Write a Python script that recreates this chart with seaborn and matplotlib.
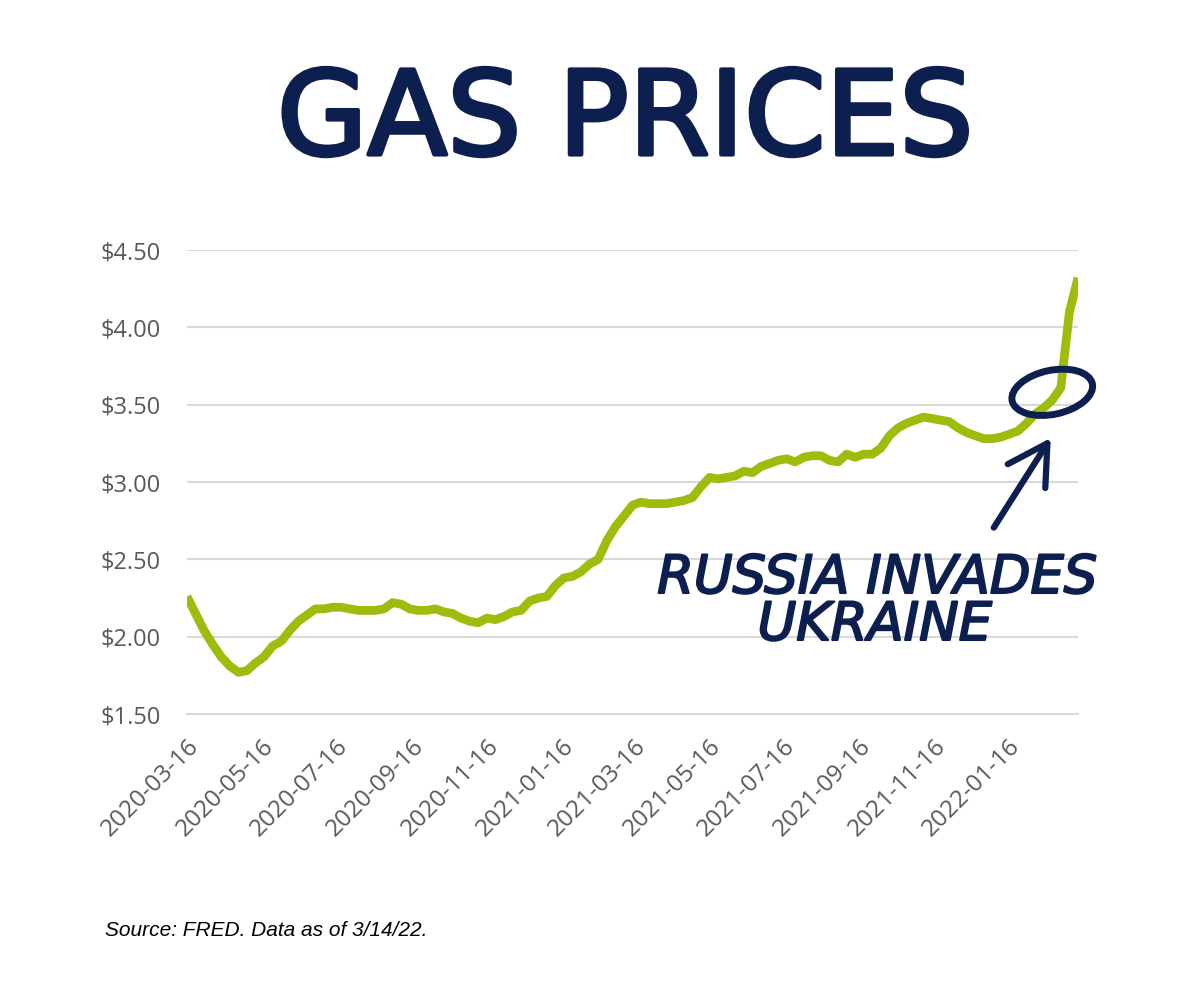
import pandas as pd
import matplotlib.pyplot as plt
import matplotlib.patheffects as pe
from matplotlib.patches import Ellipse
from matplotlib.transforms import IdentityTransform
import matplotlib.dates as mdates
import seaborn as sns

# Weekly regular gas price (FRED)
week_start = "2020-03-16"
week_end = "2022-03-14"
prices = [
    2.26, 2.15, 2.04, 1.95, 1.87, 1.81, 1.77, 1.78, 1.83, 1.87,
    1.94, 1.97, 2.04, 2.10, 2.14, 2.18, 2.18, 2.19, 2.19, 2.18,
    2.17, 2.17, 2.17, 2.18, 2.22, 2.21, 2.18, 2.17, 2.17, 2.18,
    2.16, 2.15, 2.12, 2.10, 2.09, 2.12, 2.11, 2.13, 2.16, 2.17,
    2.23, 2.25, 2.26, 2.33, 2.38, 2.39, 2.42, 2.47, 2.50, 2.62,
    2.71, 2.78, 2.85, 2.87, 2.86, 2.86, 2.86, 2.87, 2.88, 2.90,
    2.97, 3.03, 3.02, 3.03, 3.04, 3.07, 3.06, 3.10, 3.12, 3.14,
    3.15, 3.13, 3.16, 3.17, 3.17, 3.14, 3.13, 3.18, 3.16, 3.18,
    3.18, 3.22, 3.30, 3.35, 3.38, 3.40, 3.42, 3.41, 3.40, 3.39,
    3.35, 3.32, 3.30, 3.28, 3.28, 3.29, 3.31, 3.33, 3.38, 3.44,
    3.48, 3.53, 3.61, 4.10, 4.32,
]
tick_dates = [
    "2020-03-16", "2020-05-16", "2020-07-16", "2020-09-16", "2020-11-16",
    "2021-01-16", "2021-03-16", "2021-05-16", "2021-07-16", "2021-09-16",
    "2021-11-16", "2022-01-16",
]
y_ticks = [1.50, 2.00, 2.50, 3.00, 3.50, 4.00, 4.50]

dates = pd.date_range(week_start, week_end, freq="7D")
df = pd.DataFrame({"date": dates, "price": prices})

navy = "#0d1f4f"
green = "#9dbd0c"
grey_txt = "#595959"
grid_col = "#d9d9d9"

sns.set_style("white")
plt.rcParams["font.family"] = ["Open Sans", "DejaVu Sans"]

fig = plt.figure(figsize=(12, 9.91), dpi=100)
ax = fig.add_axes([0.1558, 0.2795, 0.7425, 0.4682])

sns.lineplot(data=df, x="date", y="price", color=green, linewidth=6.3,
             ax=ax, solid_capstyle="butt", zorder=3)

ax.set_xlim(dates[0], dates[-1])
ax.set_ylim(1.5, 4.5)
ax.set_yticks(y_ticks)
ax.yaxis.set_major_formatter(plt.FuncFormatter(lambda v, p: f"${v:.2f}"))
ax.grid(axis="y", color=grid_col, linewidth=1.5)
ax.grid(axis="x", visible=False)

tick_pos = pd.to_datetime(tick_dates)
ax.set_xticks(tick_pos)
ax.set_xticklabels(tick_dates, rotation=45, ha="right", rotation_mode="anchor")

for s in ["top", "right", "left"]:
    ax.spines[s].set_visible(False)
ax.spines["bottom"].set_color(grid_col)
ax.spines["bottom"].set_linewidth(1.5)
ax.tick_params(axis="x", length=7, width=1.5, color=grid_col, direction="out",
               labelsize=17.5, labelcolor=grey_txt, pad=8)
ax.tick_params(axis="y", length=0, labelsize=17, labelcolor=grey_txt, pad=19)
ax.set_xlabel("")
ax.set_ylabel("")

# Hand-drawn style title and note
marker = [pe.Stroke(linewidth=3, foreground=navy, joinstyle="round", capstyle="round"), pe.Normal()]
fig.text(0.521, 1 - 122 / 991, "GAS PRICES", ha="center", va="center",
         fontsize=84, color=navy, family="DejaVu Sans",
         path_effects=marker)

pen = [pe.Stroke(linewidth=1.5, foreground=navy, joinstyle="round", capstyle="round"), pe.Normal()]
fig.text(0.731, 1 - 578 / 991, "RUSSIA INVADES", ha="center", va="center",
         fontsize=38, style="oblique", color=navy, family="DejaVu Sans",
         path_effects=pen, zorder=5)
fig.text(0.729, 1 - 625 / 991, "UKRAINE", ha="center", va="center",
         fontsize=38, style="oblique", color=navy, family="DejaVu Sans",
         path_effects=pen, zorder=5)

# Circle around the invasion week and the arrow pointing to it
cx, cy = ax.transData.transform((mdates.date2num(dates[101]), 3.58))
ring = Ellipse((cx, cy), width=82, height=44, angle=12, fill=False,
               edgecolor=navy, linewidth=5, transform=IdentityTransform(), zorder=6)
fig.add_artist(ring)

ax.annotate("", xy=(dates[101], 3.30), xytext=(dates[94], 2.69),
            arrowprops=dict(arrowstyle="->,head_length=1.4,head_width=0.8",
                            lw=4.5, color=navy, mutation_scale=20,
                            capstyle="round", joinstyle="round"),
            annotation_clip=False, zorder=6)

fig.text(0.0875, 1 - 930 / 991, "Source: FRED. Data as of 3/14/22.",
         ha="left", va="center", fontsize=15, style="italic",
         family="Liberation Sans", color="black")

fig.savefig("out.png", dpi=100)
